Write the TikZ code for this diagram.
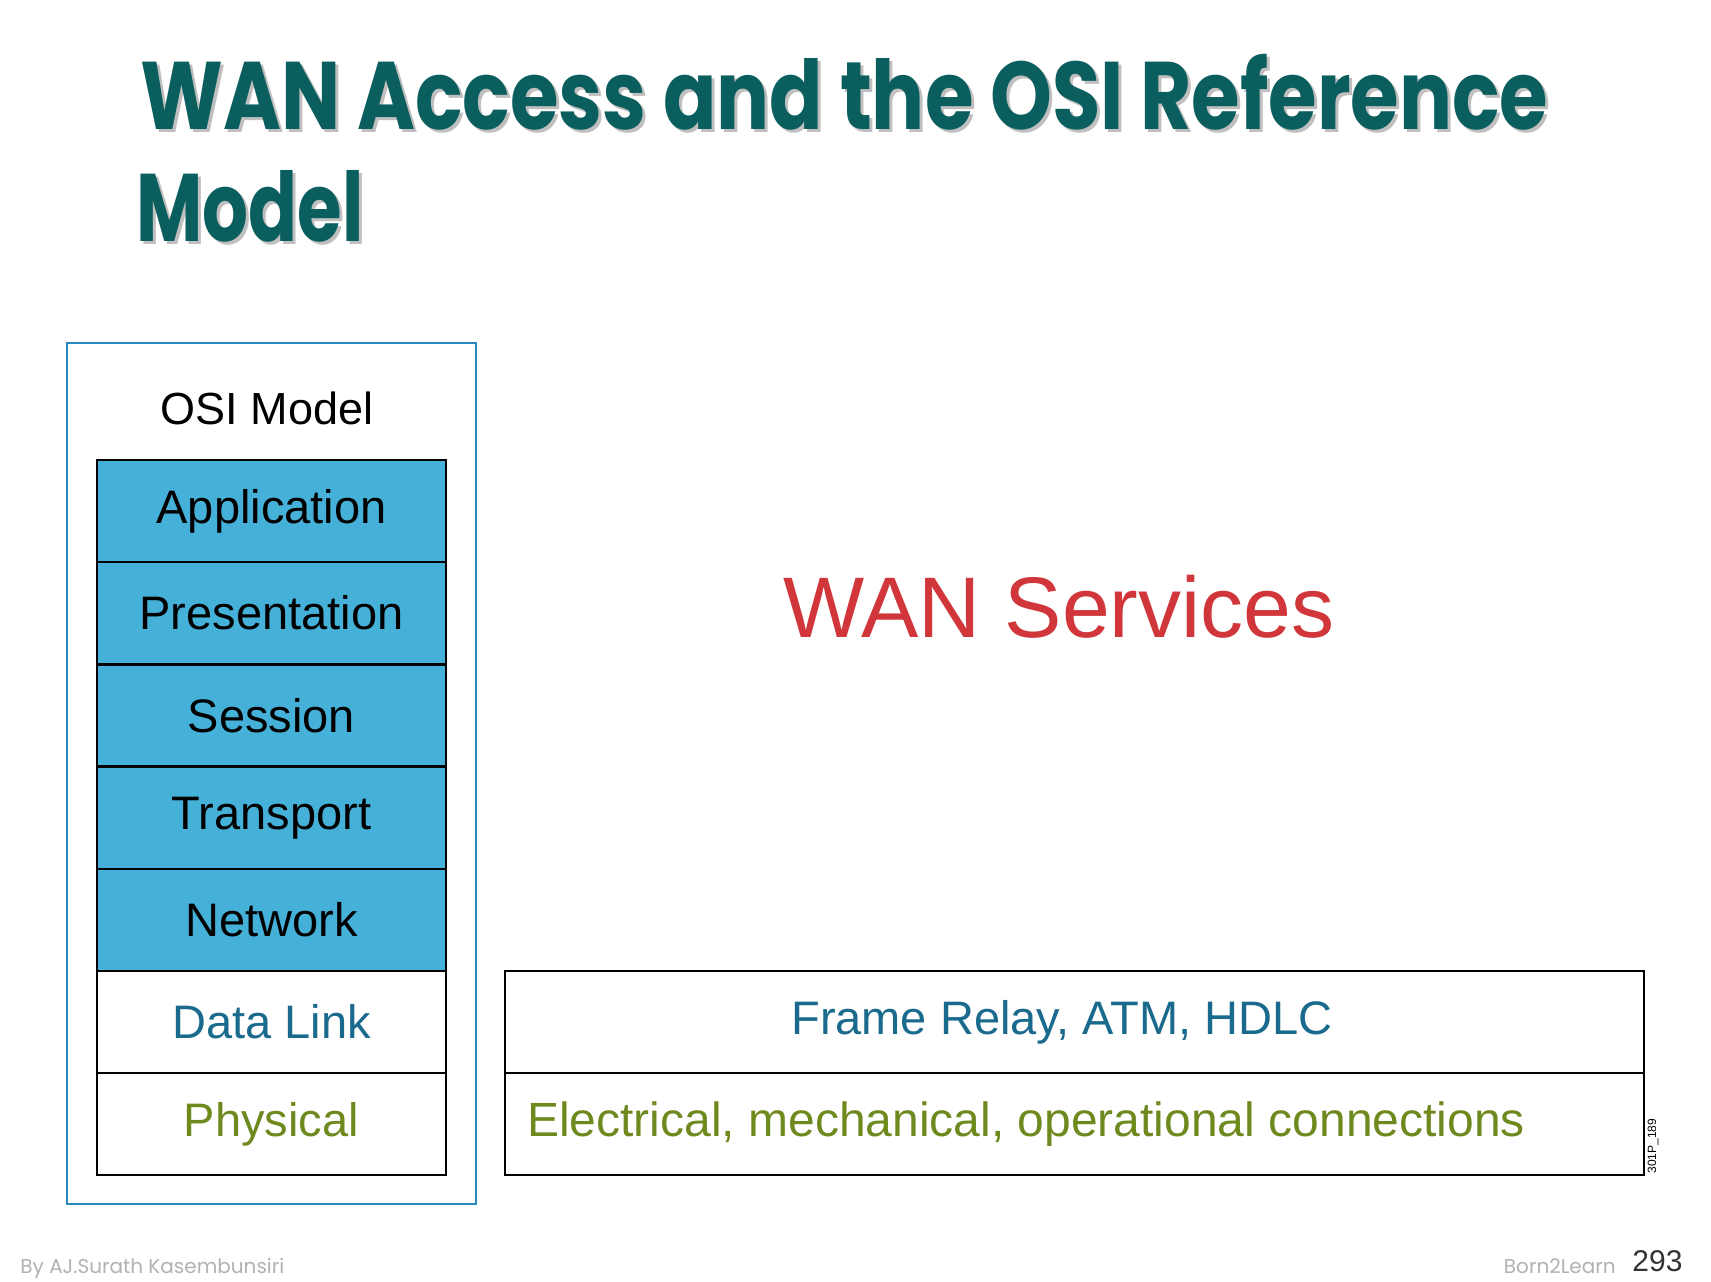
\documentclass[tikz,border=0pt]{standalone}
\usepackage{fontspec}
\setmainfont{Liberation Sans}
\newfontfamily\ttl{Poppins}
\begin{document}
\begin{tikzpicture}[x=0.5pt,y=-0.5pt,
  layer/.style={draw=black,line width=1.3pt,fill=layerblue,minimum width=174.5pt,minimum height=51pt,inner sep=0pt,font=\fontsize{23.5}{26}\selectfont},
  wlayer/.style={layer,fill=white}]
\definecolor{layerblue}{HTML}{45B0D8}
\definecolor{teal}{HTML}{0B5E5E}
\definecolor{dl}{HTML}{1A6A8E}
\definecolor{ph}{HTML}{6E8A1E}
\definecolor{wr}{HTML}{D0363A}
\definecolor{ob}{HTML}{2A8AC0}
\useasboundingbox (0,0) rectangle (1711,1281);
\fill[white] (0,0) rectangle (1711,1281);
% title
\foreach \d/\c in {3/black!25,0/teal}{
\node[anchor=base west,inner sep=0pt,text=\c,font=\ttl\bfseries\fontsize{48}{50}\selectfont] (t1\d) at (140+\d,129+\d) {\resizebox{704pt}{\height}{WAN Access and the OSI Reference}};
\node[anchor=base west,inner sep=0pt,text=\c,font=\ttl\bfseries\fontsize{48}{50}\selectfont] (t2\d) at (136+\d,241+\d) {\resizebox{113.5pt}{\height}{Model}};}
% outer box
\draw[ob,line width=1.2pt] (67,343) rectangle (476,1204);
\node[font=\fontsize{22.5}{26}\selectfont] (osi) at (267,408) {OSI Model};
\node[layer] (app) at (271.5,511) {Application};
\node[layer] (pre) at (271.5,613) {Presentation};
\node[layer] (ses) at (271.5,715.5) {Session};
\node[layer] (tra) at (271.5,818) {Transport};
\node[layer] (net) at (271.5,920) {Network};
\node[wlayer,text=dl] (dlk) at (271.5,1022) {Data Link};
\node[wlayer,text=ph] (phy) at (271.5,1124) {Physical};
% WAN
\node[text=wr,font=\fontsize{43}{46}\selectfont] (ws) at (1059,607) {WAN Services};
\draw[line width=1.3pt] (505,971) rectangle (1644,1175);
\draw[line width=1.3pt] (505,1073) -- (1644,1073);
\node[text=dl,font=\fontsize{23.5}{26}\selectfont] (fr) at (1062,1022) {Frame Relay, ATM, HDLC};
\node[anchor=west,text=ph,font=\fontsize{24}{26}\selectfont] (el) at (520,1124) {Electrical, mechanical, operational connections};
\node[rotate=90,font=\fontsize{6}{7}\selectfont] (code) at (1653,1146) {301P\_189};
% footer
\node[anchor=base west,inner sep=0pt,text=black!30,font=\ttl\fontsize{10}{12}\selectfont] (by) at (20,1273) {By AJ.Surath Kasembunsiri};
\node[anchor=base east,inner sep=0pt,text=black!30,font=\ttl\fontsize{10}{12}\selectfont] (b2l) at (1616,1273) {Born2Learn};
\node[anchor=base west,inner sep=0pt,text=black!80,font=\fontsize{15}{18}\selectfont] (pg) at (1632,1271) {293};
\end{tikzpicture}
\end{document}
